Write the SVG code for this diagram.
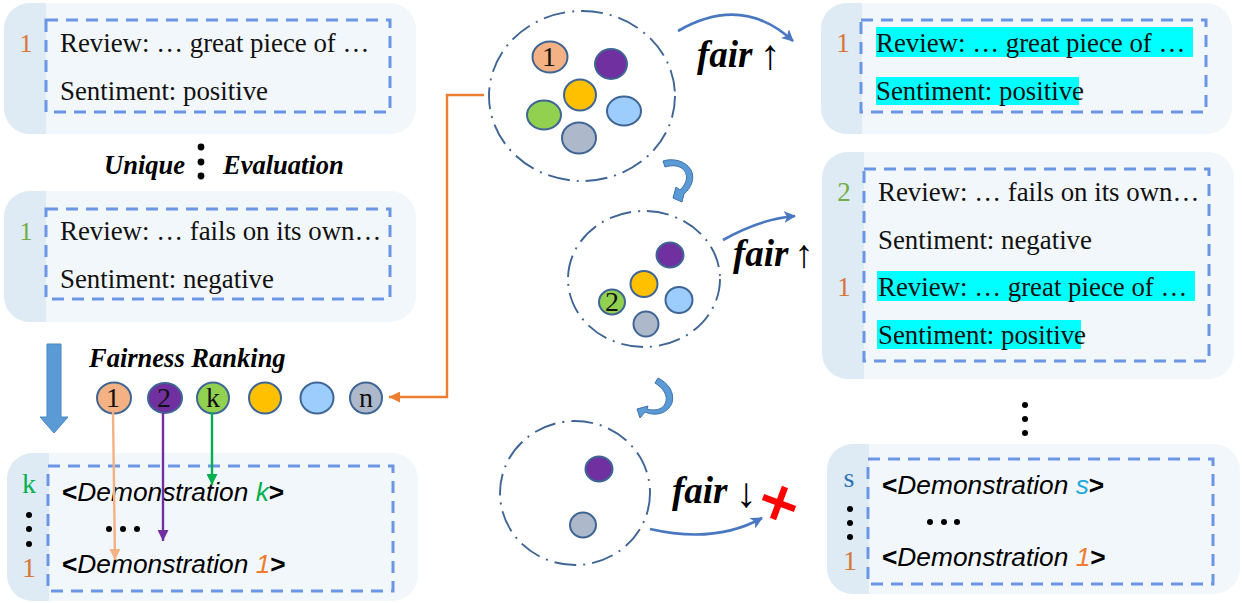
<svg xmlns="http://www.w3.org/2000/svg" width="1242" height="603" viewBox="0 0 1242 603">
<style>
.panel{fill:#f2f7fb}
.strip{fill:#deebf4}
.dash{fill:none;stroke:#6b96e6;stroke-width:3;stroke-dasharray:12 8}
.t{font-family:"Liberation Serif",serif;font-size:26.85px;fill:#111}
.num{font-family:"Liberation Serif",serif;font-size:26px;text-anchor:middle}
.bi{font-family:"Liberation Serif",serif;font-weight:bold;font-style:italic;fill:#000}
.f{font-size:37px}
.h{font-size:26.5px}
.ar{font-family:"Liberation Serif",serif;font-size:42px;fill:#000;text-anchor:middle}
.d{font-family:"Liberation Sans",sans-serif;font-size:26.3px;font-style:italic;fill:#000}
.d .b{font-weight:bold;font-style:normal}
.ring{fill:none;stroke:#3f6595;stroke-width:1.9;stroke-dasharray:22 7 2 7}
.n{stroke:#3f6595;stroke-width:2}
.lab{font-family:"Liberation Serif",serif;font-size:28px;text-anchor:middle;fill:#111}
.c1{fill:#f4b183}.c2{fill:#7030a0}.c3{fill:#92d050}.c4{fill:#ffc000}.c5{fill:#9dcdfc}.c6{fill:#adb9ca}
.hl{fill:#00ffff}
.o{fill:#d8763a}.g{fill:#70ad47}.gk{fill:#00b050}.bl{fill:#2e75b6}
.cv{fill:none;stroke:#4a78c0;stroke-width:2.6}
.dot{fill:#000}
.curl{fill:#5b9bd5;stroke:#3f72af;stroke-width:1}
</style>
<defs>
<marker id="mbo" viewBox="0 0 12 12" refX="11" refY="6" markerWidth="12" markerHeight="12" orient="auto" markerUnits="userSpaceOnUse"><path d="M0 0L12 6L0 12L3 6Z" fill="#4a78c0"/></marker>
<marker id="mo" viewBox="0 0 10 10" refX="10" refY="5" markerWidth="13" markerHeight="11" orient="auto" markerUnits="userSpaceOnUse"><path d="M0 0L10 5L0 10Z" fill="#ed7d31"/></marker>
<marker id="mp" viewBox="0 0 10 10" refX="10" refY="5" markerWidth="11" markerHeight="11" orient="auto" markerUnits="userSpaceOnUse"><path d="M0 0L10 5L0 10Z" fill="#f4b183"/></marker>
<marker id="mv" viewBox="0 0 10 10" refX="10" refY="5" markerWidth="11" markerHeight="11" orient="auto" markerUnits="userSpaceOnUse"><path d="M0 0L10 5L0 10Z" fill="#7030a0"/></marker>
<marker id="mg" viewBox="0 0 10 10" refX="10" refY="5" markerWidth="11" markerHeight="11" orient="auto" markerUnits="userSpaceOnUse"><path d="M0 0L10 5L0 10Z" fill="#00b050"/></marker>
</defs>
<rect width="1242" height="603" fill="#fff"/>

<g id="panel-unique">
<rect class="panel" x="4" y="3" width="412" height="131" rx="26"/>
<path class="strip" d="M46 3H30A26 26 0 0 0 4 29V108A26 26 0 0 0 30 134H46Z"/>
<rect class="dash" x="46" y="20" width="344" height="92"/>
<text class="num o" x="26" y="52">1</text>
<text class="t" x="60" y="52">Review: … great piece of …</text>
<text class="t" x="60" y="100">Sentiment: positive</text>
</g>
<g id="label-unique-evaluation">
<text class="bi h" x="104" y="174">Unique</text>
<circle class="dot" cx="201" cy="147" r="3.4"/><circle class="dot" cx="201" cy="162" r="3.4"/><circle class="dot" cx="201" cy="176" r="3.4"/>
<text class="bi h" x="223" y="174">Evaluation</text>
</g>
<g id="panel-evaluation">
<rect class="panel" x="4" y="191" width="412" height="131" rx="26"/>
<path class="strip" d="M46 191H30A26 26 0 0 0 4 217V296A26 26 0 0 0 30 322H46Z"/>
<rect class="dash" x="46" y="209" width="344" height="90"/>
<text class="num g" x="26" y="240">1</text>
<text class="t" x="60" y="240">Review: … fails on its own…</text>
<text class="t" x="60" y="288">Sentiment: negative</text>
</g>
<g id="block-arrow">
<path d="M47 344H61V417H68L54 433L40 417H47Z" fill="#5b9bd5" stroke="#4a86c5" stroke-width="1"/>
</g>
<g id="panel-demos-left">
<rect class="panel" x="7" y="453" width="411" height="148" rx="26"/>
<path class="strip" d="M49 453H33A26 26 0 0 0 7 479V575A26 26 0 0 0 33 601H49Z"/>
<rect class="dash" x="48" y="466" width="345" height="125"/>
<text class="num gk" x="29" y="493" style="font-size:28px">k</text>
<circle class="dot" cx="29" cy="515" r="3"/><circle class="dot" cx="29" cy="529" r="3"/><circle class="dot" cx="29" cy="544" r="3"/>
<text class="num o" x="29" y="577" style="font-size:28px">1</text>
<text class="d" x="62" y="501"><tspan class="b">&lt;</tspan>Demonstration <tspan style="fill:#00b050">k</tspan><tspan class="b">&gt;</tspan></text>
<circle class="dot" cx="109" cy="529" r="3"/><circle class="dot" cx="123" cy="529" r="3"/><circle class="dot" cx="137" cy="529" r="3"/>
<text class="d" x="62" y="573"><tspan class="b">&lt;</tspan>Demonstration <tspan style="fill:#ed7d31">1</tspan><tspan class="b">&gt;</tspan></text>
</g>
<g id="label-fairness-ranking"><text class="bi h" x="89" y="367">Fairness Ranking</text></g>
<g id="ranking-nodes">
<g id="rank-1"><ellipse class="n c1" cx="114" cy="398" rx="17" ry="15.5"/><text class="lab" x="113" y="407">1</text></g>
<g id="rank-2"><ellipse class="n c2" cx="165" cy="398" rx="17" ry="15"/><text class="lab" x="164" y="407">2</text></g>
<g id="rank-k"><ellipse class="n c3" cx="213" cy="398" rx="16" ry="15.5"/><text class="lab" x="213" y="407">k</text></g>
<g id="rank-4"><ellipse class="n c4" cx="265" cy="398" rx="16" ry="15.5"/></g>
<g id="rank-5"><ellipse class="n c5" cx="317" cy="398" rx="16.5" ry="15.5"/></g>
<g id="rank-n"><ellipse class="n c6" cx="366" cy="398" rx="16" ry="15.5"/><text class="lab" x="366" y="407">n</text></g>
</g>

<g id="pool-1">
<ellipse class="ring" cx="582" cy="96" rx="93" ry="85"/>
<ellipse class="n c1" cx="550" cy="57" rx="17.5" ry="15.5"/><text class="lab" x="549" y="66">1</text>
<ellipse class="n c2" cx="611" cy="64" rx="16" ry="15"/>
<ellipse class="n c4" cx="580" cy="95" rx="16" ry="15.5"/>
<ellipse class="n c3" cx="544" cy="115" rx="17" ry="14.5"/>
<ellipse class="n c5" cx="624" cy="111" rx="17" ry="14.5"/>
<ellipse class="n c6" cx="579" cy="138" rx="17" ry="15.5"/>
</g>
<g id="pool-2">
<ellipse class="ring" cx="644" cy="279" rx="76" ry="68"/>
<ellipse class="n c2" cx="670" cy="255" rx="13.5" ry="12.5"/>
<ellipse class="n c4" cx="644" cy="284" rx="13.5" ry="13"/>
<ellipse class="n c3" cx="612" cy="302" rx="13" ry="12.5"/><text class="lab" x="612" y="311">2</text>
<ellipse class="n c5" cx="679" cy="300" rx="13.5" ry="13"/>
<ellipse class="n c6" cx="646" cy="324" rx="12.5" ry="12.5"/>
</g>
<g id="pool-3">
<ellipse class="ring" cx="575" cy="493" rx="75" ry="72"/>
<ellipse class="n c2" cx="599" cy="469" rx="13.5" ry="12.5"/>
<ellipse class="n c6" cx="583" cy="525" rx="13" ry="12.5"/>
</g>

<g id="label-fair-1"><text class="bi f" x="697" y="67">fair</text><text class="ar" x="770" y="69">↑</text></g>
<g id="label-fair-2"><text class="bi f" x="733" y="266">fair</text><text class="ar" x="804" y="267" style="font-size:39px">↑</text></g>
<g id="label-fair-3"><text class="bi f" x="672" y="503">fair</text><text class="ar" x="746" y="507">↓</text></g>
<g id="reject-x"><path d="M763 497L795 509M785 487L773 519" stroke="#ff0000" stroke-width="6.5" fill="none"/></g>

<g id="panel-result-1">
<rect class="panel" x="821" y="3" width="411" height="131" rx="26"/>
<path class="strip" d="M862 3H847A26 26 0 0 0 821 29V108A26 26 0 0 0 847 134H862Z"/>
<rect class="dash" x="861" y="20" width="345" height="92"/>
<rect class="hl" x="876" y="27" width="317" height="30"/>
<rect class="hl" x="876" y="77" width="203" height="28"/>
<text class="num o" x="843" y="52" style="font-size:27px">1</text>
<text class="t" x="876" y="52">Review: … great piece of …</text>
<text class="t" x="876" y="100">Sentiment: positive</text>
</g>
<g id="panel-result-2">
<rect class="panel" x="822" y="152" width="412" height="227" rx="26"/>
<path class="strip" d="M864 152H848A26 26 0 0 0 822 178V353A26 26 0 0 0 848 379H864Z"/>
<rect class="dash" x="864" y="169" width="345" height="192"/>
<rect class="hl" x="877" y="271" width="318" height="30"/>
<rect class="hl" x="877" y="320" width="204" height="29"/>
<text class="num g" x="844" y="201" style="font-size:27px">2</text>
<text class="num o" x="844" y="296" style="font-size:27px">1</text>
<text class="t" x="878" y="201">Review: … fails on its own…</text>
<text class="t" x="878" y="249">Sentiment: negative</text>
<text class="t" x="878" y="296">Review: … great piece of …</text>
<text class="t" x="878" y="344">Sentiment: positive</text>
</g>
<g id="dots-right"><circle class="dot" cx="1025" cy="405" r="3"/><circle class="dot" cx="1025" cy="419" r="3"/><circle class="dot" cx="1025" cy="433" r="3"/></g>
<g id="panel-demos-right">
<rect class="panel" x="827" y="444" width="413" height="150" rx="26"/>
<path class="strip" d="M869 444H853A26 26 0 0 0 827 470V568A26 26 0 0 0 853 594H869Z"/>
<rect class="dash" x="868" y="459" width="345" height="125"/>
<text class="num bl" x="849" y="487" style="font-size:28px">s</text>
<circle class="dot" cx="850" cy="509" r="3"/><circle class="dot" cx="850" cy="523" r="3"/><circle class="dot" cx="850" cy="537" r="3"/>
<text class="num o" x="850" y="570" style="font-size:28px">1</text>
<text class="d" x="882" y="494"><tspan class="b">&lt;</tspan>Demonstration <tspan style="fill:#1fa8dc">s</tspan><tspan class="b">&gt;</tspan></text>
<circle class="dot" cx="930" cy="522" r="3"/><circle class="dot" cx="944" cy="522" r="3"/><circle class="dot" cx="957" cy="522" r="3"/>
<text class="d" x="882" y="566"><tspan class="b">&lt;</tspan>Demonstration <tspan style="fill:#ed7d31">1</tspan><tspan class="b">&gt;</tspan></text>
</g>

<g id="connectors">
<path d="M484 95H447V397H389" fill="none" stroke="#ed7d31" stroke-width="2.4" marker-end="url(#mo)"/>
<path d="M113 412L115 560" fill="none" stroke="#f4b183" stroke-width="2.4" marker-end="url(#mp)"/>
<path d="M163 413V541" fill="none" stroke="#7030a0" stroke-width="2.4" marker-end="url(#mv)"/>
<path d="M212 412V485" fill="none" stroke="#00b050" stroke-width="2.4" marker-end="url(#mg)"/>
<path class="cv" d="M678 31Q742 -6 793 41" marker-end="url(#mbo)"/>
<path class="cv" d="M723 240Q760 219 795 216" marker-end="url(#mbo)"/>
<path class="cv" d="M650 529Q715 544 762 518" marker-end="url(#mbo)"/>
<path class="curl" d="M663 161C672 158 685 160 691 170C695 178 692 187 684 194L682 202L673 198L676 187L680 190C686 184 689 177 684 170C679 165 672 165 665 167Z"/>
<path class="curl" d="M658 378C668 383 675 392 672 403C668 413 656 417 645 412L640 418L637 409L648 406L647 409C654 411 662 410 665 404C669 396 663 388 655 383Z"/>
</g>
</svg>
